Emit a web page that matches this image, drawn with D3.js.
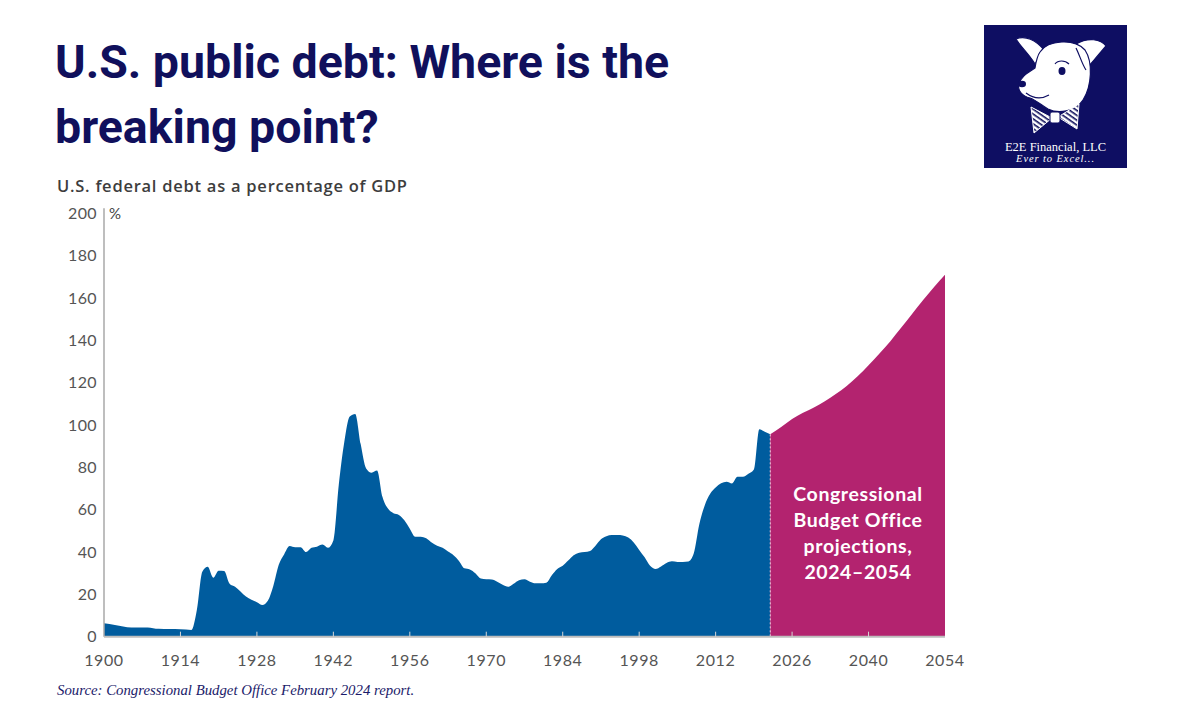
<!DOCTYPE html>
<html>
<head>
<meta charset="utf-8">
<script src="https://cdn.jsdelivr.net/npm/d3@7"></script>
<style>
    body { margin: 0; background: #fff; }
    svg { display: block; }
</style>
</head>
<body>
<svg id="chart" width="1200" height="727"></svg>
<script>
// historical debt held by public, % of GDP
const histYears = [1900, 1902, 1905, 1908, 1910, 1912, 1914, 1916, 1917, 1918, 1919, 1920, 1921, 1922, 1923, 1924, 1926, 1927, 1928, 1929, 1930, 1931, 1932, 1933, 1934, 1935, 1936, 1937, 1938, 1939, 1940, 1941, 1942, 1943, 1944, 1945, 1946, 1947, 1948, 1949, 1950, 1951, 1952, 1953, 1954, 1955, 1956, 1957, 1958, 1959, 1960, 1961, 1962, 1963, 1964, 1965, 1966, 1967, 1968, 1969, 1970, 1971, 1972, 1973, 1974, 1975, 1976, 1977, 1978, 1979, 1980, 1981, 1982, 1983, 1984, 1985, 1986, 1987, 1988, 1989, 1990, 1991, 1992, 1993, 1994, 1995, 1996, 1997, 1998, 1999, 2000, 2001, 2002, 2003, 2004, 2005, 2006, 2007, 2008, 2009, 2010, 2011, 2012, 2013, 2014, 2015, 2016, 2017, 2018, 2019, 2020, 2021, 2022];
const histValues = [6.3, 5.5, 4.3, 4.4, 3.7, 3.6, 3.5, 3.2, 12.6, 30.7, 33, 27.9, 31.2, 31, 25, 23.6, 19, 17.5, 16.3, 15, 17, 24, 34, 39, 42.8, 42.2, 42.3, 40, 42, 42.5, 43.5, 42, 45.5, 72, 92, 104, 105.2, 91, 79.5, 77.5, 78.5, 66, 60.5, 58.3, 57.5, 55, 51, 47.2, 47.2, 46.5, 44.5, 43, 42, 40.2, 38.5, 35.8, 32.3, 31.8, 30, 27.5, 27.1, 27, 26, 24.5, 23.6, 25, 26.7, 27.1, 26, 25.2, 25.2, 25.5, 29, 32, 33.5, 36, 38.5, 39.7, 40, 40.5, 43, 46, 47.5, 48, 48, 47.8, 46.8, 44.5, 41, 37.5, 33.5, 32, 33.2, 34.8, 35.6, 35.3, 35.3, 35.5, 39.4, 53, 62, 67.5, 70.5, 72.5, 73.2, 72.4, 75.5, 75.5, 77, 79, 98, 96.8, 95.6];

// CBO projection
const projYears = [2022, 2024, 2026, 2028, 2030, 2032, 2034, 2036, 2038, 2040, 2042, 2044, 2046, 2048, 2050, 2052, 2054];
const projValues = [95.6, 99, 102.8, 105.8, 108.3, 111.2, 114.6, 118.4, 123, 128.2, 133.8, 139.6, 146, 152.5, 159, 165.2, 171];

const xTicks = [1900, 1914, 1928, 1942, 1956, 1970, 1984, 1998, 2012, 2026, 2040, 2054];
const yTicks = [0, 20, 40, 60, 80, 100, 120, 140, 160, 180, 200];

const titleLines = ["U.S. public debt: Where is the", "breaking point?"];
const noteLines = ["Congressional", "Budget Office", "projections,", "2024\u20132054"];

const navy = "#10105c";
const blue = "#005c9e";
const magenta = "#b3236f";

var svg = d3.select("#chart");

var x = d3.scaleLinear().domain([1900, 2054]).range([104, 945]);
var y = d3.scaleLinear().domain([0, 200]).range([636.7, 213.3]);

// title
svg.append("g")
    .selectAll("text")
    .data(titleLines)
    .join("text")
    .attr("x", 55)
    .attr("y", (d, i) => 78 + i * 65)
    .attr("font-family", "Roboto")
    .attr("font-weight", 700)
    .attr("font-size", 46.5)
    .attr("fill", navy)
    .text(d => d);

svg.append("text")
    .attr("x", 57)
    .attr("y", 192)
    .attr("font-family", "Open Sans")
    .attr("font-weight", 600)
    .attr("font-size", 16.5)
    .attr("letter-spacing", 0.75)
    .attr("fill", "#3d3d3d")
    .text("U.S. federal debt as a percentage of GDP");

let hist = histYears.map((d, i) => [d, histValues[i]]);
let proj = projYears.map((d, i) => [d, projValues[i]]);

var area = d3.area()
    .x(d => x(d[0]))
    .y0(y(0))
    .y1(d => y(d[1]))
    .curve(d3.curveMonotoneX);

svg.append("path")
    .datum(hist)
    .attr("d", area)
    .attr("fill", blue);

svg.append("path")
    .datum(proj)
    .attr("d", area)
    .attr("fill", magenta);

// boundary between actuals and projections
svg.append("line")
    .attr("x1", x(projYears[0]))
    .attr("x2", x(projYears[0]))
    .attr("y1", y(projValues[0]))
    .attr("y2", y(0))
    .attr("stroke", "#f0c8dc")
    .attr("stroke-width", 1)
    .attr("stroke-dasharray", "2,2");

// axes
svg.append("line")
    .attr("x1", x(1900))
    .attr("x2", x(1900))
    .attr("y1", y(200) - 5)
    .attr("y2", y(0))
    .attr("stroke", "#a8a8a8")
    .attr("stroke-width", 1.5);

svg.append("line")
    .attr("x1", x(1900))
    .attr("x2", x(2054))
    .attr("y1", y(0))
    .attr("y2", y(0))
    .attr("stroke", "#bdbdbd")
    .attr("stroke-width", 2);

svg.append("g")
    .selectAll("line")
    .data(xTicks.slice(1, -1))
    .join("line")
    .attr("x1", d => x(d))
    .attr("x2", d => x(d))
    .attr("y1", y(0))
    .attr("y2", y(0) - 5)
    .attr("stroke", "#d6d6d6")
    .attr("stroke-width", 1);

svg.append("g")
    .selectAll("text")
    .data(yTicks)
    .join("text")
    .attr("x", 97)
    .attr("y", d => y(d))
    .attr("dy", "0.36em")
    .attr("text-anchor", "end")
    .attr("font-family", "Lato")
    .attr("font-size", 16)
    .attr("letter-spacing", 0.4)
    .attr("fill", "#555")
    .text(d => d);

svg.append("text")
    .attr("x", 109)
    .attr("y", y(200))
    .attr("dy", "0.36em")
    .attr("font-family", "Lato")
    .attr("font-size", 15)
    .attr("fill", "#444")
    .text("%");

svg.append("g")
    .selectAll("text")
    .data(xTicks)
    .join("text")
    .attr("x", d => x(d))
    .attr("y", 666)
    .attr("text-anchor", "middle")
    .attr("font-family", "Lato")
    .attr("font-size", 16)
    .attr("letter-spacing", 0.6)
    .attr("fill", "#555")
    .text(d => d);

// projection note
svg.append("g")
    .selectAll("text")
    .data(noteLines)
    .join("text")
    .attr("x", 858)
    .attr("y", (d, i) => 501 + i * 26)
    .attr("text-anchor", "middle")
    .attr("font-family", "Lato")
    .attr("font-weight", 700)
    .attr("font-size", 19.5)
    .attr("letter-spacing", 0.6)
    .attr("fill", "#fff")
    .text(d => d);

svg.append("text")
    .attr("x", 57)
    .attr("y", 695)
    .attr("font-family", "Liberation Serif")
    .attr("font-style", "italic")
    .attr("font-size", 14.8)
    .attr("fill", "#1b1b6a")
    .text("Source: Congressional Budget Office February 2024 report.");

// logo
var logo = svg.append("g");

var stripes = svg.append("defs")
    .append("pattern")
    .attr("id", "tie-stripes")
    .attr("width", 4)
    .attr("height", 4)
    .attr("patternUnits", "userSpaceOnUse")
    .attr("patternTransform", "rotate(35)");
stripes.append("rect").attr("width", 4).attr("height", 4).attr("fill", "#fff");
stripes.append("rect").attr("width", 4).attr("height", 1.6).attr("fill", navy);

logo.append("rect")
    .attr("x", 984)
    .attr("y", 25)
    .attr("width", 143)
    .attr("height", 143)
    .attr("fill", "#0e0e62");

// ears
logo.append("path")
    .attr("d", "M1044,50 C1036,40 1025,35 1016,39 C1020,46 1029,54 1035,64 Z")
    .attr("fill", "#fff")
    .attr("stroke", "#0e0e62")
    .attr("stroke-width", 1.2);
logo.append("path")
    .attr("d", "M1076,44 C1088,37 1101,39 1106,46 C1101,52 1094,60 1088,67 C1086,57 1082,50 1076,44 Z")
    .attr("fill", "#fff")
    .attr("stroke", "#0e0e62")
    .attr("stroke-width", 1.2);
// head
logo.append("path")
    .attr("d", "M1040,52 C1048,40 1074,38 1085,50 C1093,62 1092,86 1083,100 C1075,112 1058,114 1048,109 C1041,105 1036,100 1030,98 C1022,96 1017,90 1019,84 C1021,76 1029,72 1035,68 C1036,62 1037,56 1040,52 Z")
    .attr("fill", "#fff")
    .attr("stroke", "#0e0e62")
    .attr("stroke-width", 1.2);
logo.append("path")
    .attr("d", "M1076,48 C1080,56 1082,64 1086,70")
    .attr("fill", "none")
    .attr("stroke", "#0e0e62")
    .attr("stroke-width", 1.2);
logo.append("ellipse")
    .attr("cx", 1062)
    .attr("cy", 71)
    .attr("rx", 3.5)
    .attr("ry", 4)
    .attr("fill", "#0e0e62");
logo.append("path")
    .attr("d", "M1055,64 C1058,60 1065,60 1069,64")
    .attr("fill", "none")
    .attr("stroke", "#0e0e62")
    .attr("stroke-width", 1.2);
logo.append("ellipse")
    .attr("cx", 1022)
    .attr("cy", 84)
    .attr("rx", 4)
    .attr("ry", 3.2)
    .attr("fill", "#0e0e62");
logo.append("path")
    .attr("d", "M1026,93 C1034,99 1042,99 1049,95")
    .attr("fill", "none")
    .attr("stroke", "#0e0e62")
    .attr("stroke-width", 1.2);
// bow tie
logo.append("path")
    .attr("d", "M1052,118 L1031,107 L1034,133 Z")
    .attr("fill", "url(#tie-stripes)")
    .attr("stroke", "#fff")
    .attr("stroke-width", 1);
logo.append("path")
    .attr("d", "M1058,117 L1079,104 L1077,129 Z")
    .attr("fill", "url(#tie-stripes)")
    .attr("stroke", "#fff")
    .attr("stroke-width", 1);
logo.append("rect")
    .attr("x", 1050)
    .attr("y", 112)
    .attr("width", 10)
    .attr("height", 11)
    .attr("rx", 2)
    .attr("fill", "#fff")
    .attr("stroke", "#0e0e62");

logo.append("text")
    .attr("x", 1055.5)
    .attr("y", 151)
    .attr("text-anchor", "middle")
    .attr("font-family", "Liberation Serif")
    .attr("font-size", 12.5)
    .attr("fill", "#fff")
    .text("E2E Financial, LLC");
logo.append("text")
    .attr("x", 1055.5)
    .attr("y", 162)
    .attr("text-anchor", "middle")
    .attr("font-family", "Liberation Serif")
    .attr("font-style", "italic")
    .attr("font-size", 10.5)
    .attr("letter-spacing", 0.9)
    .attr("fill", "#fff")
    .text("Ever to Excel...");
</script>
</body>
</html>
